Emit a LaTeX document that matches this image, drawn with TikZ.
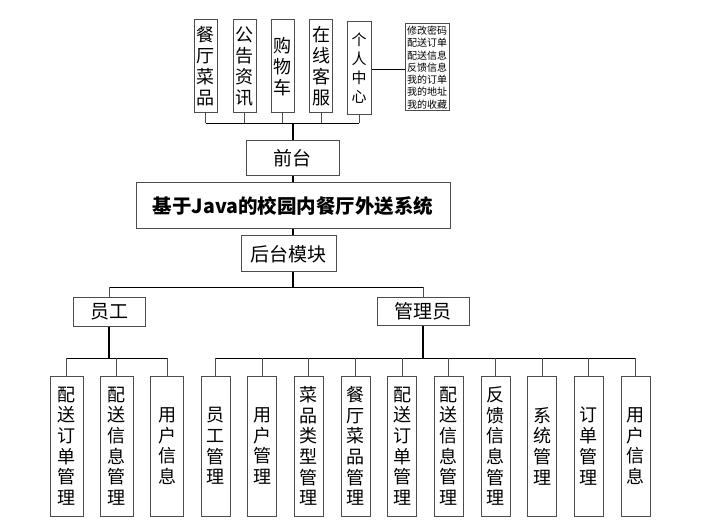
\documentclass[tikz,border=0pt]{standalone}
\usepackage{fontspec}
\setmainfont{Noto Sans CJK SC}
\usepackage{tikz}

\begin{document}
\begin{tikzpicture}[x=1pt, y=-1pt,
    box/.style={draw=black!70, line width=1pt, inner sep=0pt, align=center},
    vtop/.style={box, minimum width=23pt, minimum height=93pt, font=\fontsize{18}{21}\selectfont},
    vlow/.style={box, minimum height=140pt, font=\fontsize{18}{20.7}\selectfont},
    drop/.style={draw=black!70, line width=1pt},
    bar/.style={draw=black, line width=0.6pt},
    trunk/.style={draw=black, line width=1.6pt}]
    \useasboundingbox (0,0) rectangle (706,526);

    % front end
    \node [vtop] (cp) at (205.5, 66.5) {餐\\厅\\菜\\品};
    \node [vtop] (gg) at (244.5, 66.5) {公\\告\\资\\讯};
    \node [vtop] (gw) at (282.5, 66.5) {购\\物\\车};
    \node [vtop] (kf) at (321, 66.5) {在\\线\\客\\服};
    \node [vtop, minimum width=24pt, font=\fontsize{15}{19}\selectfont] (gr) at (359, 68.5) {个\\人\\中\\心};
    \node [box, minimum width=44pt, minimum height=87pt, font=\fontsize{10}{12.3}\selectfont] (grlist) at (427, 67.5)
        {修改密码\\配送订单\\配送信息\\反馈信息\\我的订单\\我的地址\\我的收藏};
    \draw [bar] (gr.east |- 0,69) -- (grlist.west |- 0,69);

    \node [box, minimum width=93pt, minimum height=35pt, font=\fontsize{19}{21}\selectfont] (qt) at (292.5, 158.5) {前台};
    \coordinate (qtbus) at (293, 123);
    \draw [drop] (cp.south) -- (cp.south |- qtbus);
    \draw [drop] (gg.south) -- (gg.south |- qtbus);
    \draw [drop] (gw.south) -- (gw.south |- qtbus);
    \draw [drop] (kf.south) -- (kf.south |- qtbus);
    \draw [drop] (gr.south) -- (gr.south |- qtbus);
    \draw [bar] (cp.south |- qtbus) -- (gr.south |- qtbus);
    \draw [trunk] (qtbus) -- (qtbus |- qt.north);

    % title
    \node [box, minimum width=314pt, minimum height=46pt, font=\fontsize{19.5}{23}\selectfont\bfseries] (sys) at (293, 206) {基于Java的校园内餐厅外送系统};
    \draw [trunk] (293, 176) -- (sys.north -| 293, 0);

    % back end
    \node [box, minimum width=95pt, minimum height=36pt, font=\fontsize{19}{21}\selectfont] (ht) at (288.5, 254) {后台模块};
    \draw [trunk] (sys.south -| 293, 0) -- (ht.north -| 293, 0);

    \node [box, minimum width=72pt, minimum height=28pt, font=\fontsize{19}{21}\selectfont] (yg) at (109, 312) {员工};
    \node [box, minimum width=92pt, minimum height=27pt, font=\fontsize{19}{21}\selectfont] (gly) at (423, 311.5) {管理员};
    \coordinate (htbus) at (293, 287);
    \draw [trunk] (ht.south -| htbus) -- (htbus);
    \draw [bar] (yg.north |- htbus) -- (gly.north |- htbus);
    \draw [drop] (yg.north |- htbus) -- (yg.north);
    \draw [drop] (gly.north |- htbus) -- (gly.north);

    % staff
    \node [vlow, minimum width=33pt] (yg1) at (66.5, 446) {配\\送\\订\\单\\管\\理};
    \node [vlow, minimum width=33pt] (yg2) at (116.5, 446) {配\\送\\信\\息\\管\\理};
    \node [vlow, minimum width=33pt] (yg3) at (167, 446) {用\\户\\信\\息};
    \coordinate (ygbus) at (109, 358);
    \draw [trunk] (yg.south) -- (ygbus);
    \draw [bar] (yg1.north |- ygbus) -- (yg3.north |- ygbus);
    \draw [drop] (yg1.north |- ygbus) -- (yg1.north);
    \draw [drop] (yg2.north |- ygbus) -- (yg2.north);
    \draw [drop] (yg3.north |- ygbus) -- (yg3.north);

    % admin
    \node [vlow, minimum width=29pt] (gl1) at (215.5, 446) {员\\工\\管\\理};
    \node [vlow, minimum width=29pt] (gl2) at (262.2, 446) {用\\户\\管\\理};
    \node [vlow, minimum width=29pt] (gl3) at (308.8, 446) {菜\\品\\类\\型\\管\\理};
    \node [vlow, minimum width=29pt] (gl4) at (355.5, 446) {餐\\厅\\菜\\品\\管\\理};
    \node [vlow, minimum width=29pt] (gl5) at (402.2, 446) {配\\送\\订\\单\\管\\理};
    \node [vlow, minimum width=29pt] (gl6) at (448.8, 446) {配\\送\\信\\息\\管\\理};
    \node [vlow, minimum width=29pt] (gl7) at (495.5, 446) {反\\馈\\信\\息\\管\\理};
    \node [vlow, minimum width=29pt] (gl8) at (542.2, 446) {系\\统\\管\\理};
    \node [vlow, minimum width=29pt] (gl9) at (588.8, 446) {订\\单\\管\\理};
    \node [vlow, minimum width=29pt] (gl10) at (635.5, 446) {用\\户\\信\\息};
    \coordinate (glbus) at (423, 358);
    \draw [trunk] (gly.south) -- (glbus);
    \draw [bar] (gl1.north |- glbus) -- (gl10.north |- glbus);
    \draw [drop] (gl1.north |- glbus) -- (gl1.north);
    \draw [drop] (gl2.north |- glbus) -- (gl2.north);
    \draw [drop] (gl3.north |- glbus) -- (gl3.north);
    \draw [drop] (gl4.north |- glbus) -- (gl4.north);
    \draw [drop] (gl5.north |- glbus) -- (gl5.north);
    \draw [drop] (gl6.north |- glbus) -- (gl6.north);
    \draw [drop] (gl7.north |- glbus) -- (gl7.north);
    \draw [drop] (gl8.north |- glbus) -- (gl8.north);
    \draw [drop] (gl9.north |- glbus) -- (gl9.north);
    \draw [drop] (gl10.north |- glbus) -- (gl10.north);
\end{tikzpicture}
\end{document}
